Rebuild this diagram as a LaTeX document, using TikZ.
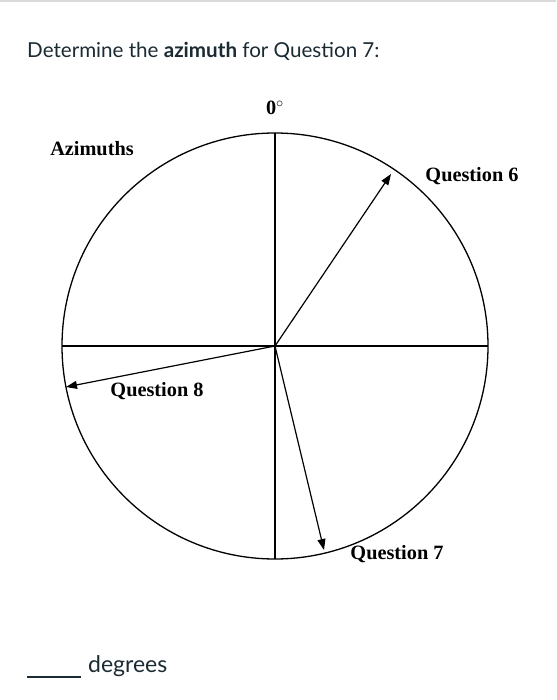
\documentclass[tikz,border=0pt]{standalone}
\usepackage{fontspec}
\setmainfont{Liberation Serif}
\newfontfamily\uifont{Lato}
\usetikzlibrary{arrows.meta}
\definecolor{uitext}{HTML}{1B2B33}
\definecolor{topline}{HTML}{DADADA}
\tikzset{
  lbl/.style={font=\fontsize{20.3}{23}\selectfont\bfseries, inner sep=0pt},
  ui/.style={font=\uifont\fontsize{20.6}{24}\selectfont, text=uitext, inner sep=0pt, anchor=base west},
  ray/.style={line width=1.2pt, -{Triangle[length=11pt,width=8pt]}},
  axis/.style={line width=1.2pt},
}
\begin{document}
\begin{tikzpicture}[x=1pt,y=-1pt]
\useasboundingbox (0,0) rectangle (556,700);
\fill[white] (0,0) rectangle (556,700);
\fill[topline] (0,0) rectangle (556,2);
\node[ui] (title) at (27,58) {Determine the \textbf{azimuth} for Question 7:};
\coordinate (bl) at (27,677);
\coordinate (br) at (81,677);
\draw[uitext, line width=1.2pt] (bl) -- (br);
\node[ui, font=\uifont\fontsize{23}{26}\selectfont] (ans) at (88,672) {degrees};
\coordinate (c) at (275,346);
\draw[line width=1.3pt] (c) circle[radius=213];
\coordinate (n) at (275,133);
\coordinate (s) at (275,559);
\coordinate (w) at (62,346);
\coordinate (e) at (488,346);
\draw[axis] (n) -- (s);
\draw[axis] (w) -- (e);
\coordinate (t6) at (391,174);
\coordinate (t7) at (324,550);
\coordinate (t8) at (66,387);
\draw[ray] (c) -- (t6);
\draw[ray] (c) -- (t7);
\draw[ray] (c) -- (t8);
\node[lbl] (zero) at (275,108) {0$^{\circ}$};
\node[lbl] (az) at (92,149) {Azimuths};
\node[lbl] (q6) at (472,176) {Question 6};
\node[lbl] (q8) at (157,391) {Question 8};
\node[lbl] (q7) at (397,554) {Question 7};
\end{tikzpicture}
\end{document}
